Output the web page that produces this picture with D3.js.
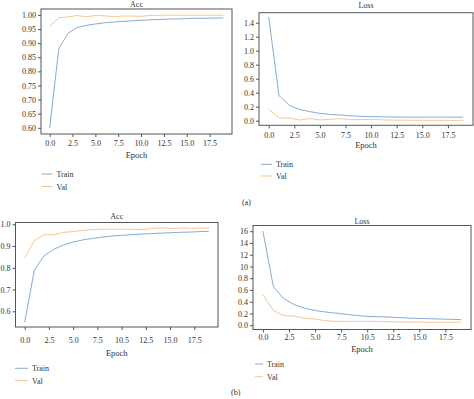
<!DOCTYPE html>
<html><head><meta charset="utf-8">
<script src="https://cdn.jsdelivr.net/npm/d3@7"></script>
<style>
html,body{margin:0;padding:0;background:#fff;}
svg{display:block;}
text{font-family:"Liberation Serif","DejaVu Serif",serif;fill:#333;}
</style></head>
<body>
<script>
const epochs = d3.range(0, 20);
const xTickValues = [0, 2.5, 5, 7.5, 10, 12.5, 15, 17.5];
const xTickLabelsA = ["0.0","2.5","5.0","7.5","10.0","12.5","15.0","17.5"];
const xTickLabelsB = ["0.0","2.5","5.0","7.5","10.5","12.5","15.0","17.5"];

const accTrainA = [0.600,0.880,0.935,0.955,0.963,0.968,0.972,0.975,0.977,0.979,0.981,0.983,0.984,0.985,0.986,0.987,0.988,0.988,0.989,0.989];
const accValA   = [0.960,0.990,0.993,0.998,0.993,0.998,0.997,0.994,0.996,0.996,0.995,0.998,0.999,0.999,0.999,0.999,0.999,0.999,0.999,0.999];
const lossTrainA = [1.48,0.36,0.22,0.16,0.13,0.105,0.09,0.08,0.07,0.062,0.058,0.055,0.052,0.050,0.050,0.050,0.050,0.050,0.050,0.050];
const lossValA   = [0.16,0.04,0.04,0.01,0.03,0.01,0.02,0.03,0.015,0.015,0.02,0.012,0.008,0.007,0.006,0.006,0.005,0.005,0.005,0.005];

const accTrainB = [0.550,0.790,0.855,0.885,0.905,0.918,0.928,0.935,0.941,0.946,0.949,0.952,0.955,0.957,0.959,0.961,0.963,0.964,0.966,0.967];
const accValB   = [0.845,0.925,0.952,0.952,0.963,0.966,0.972,0.975,0.977,0.977,0.977,0.977,0.974,0.980,0.983,0.981,0.982,0.982,0.982,0.982];
const lossTrainB = [1.60,0.66,0.45,0.35,0.29,0.25,0.225,0.205,0.185,0.165,0.15,0.145,0.14,0.13,0.12,0.115,0.11,0.105,0.10,0.095];
const lossValB   = [0.52,0.25,0.165,0.155,0.12,0.105,0.075,0.065,0.065,0.065,0.065,0.065,0.06,0.055,0.055,0.052,0.05,0.05,0.05,0.05];

const yTicksAccA = [0.60,0.65,0.70,0.75,0.80,0.85,0.90,0.95,1.00];
const yTickLabelsAccA = ["0.60","0.65","0.70","0.75","0.80","0.85","0.90","0.95","1.00"];
const yTicksLossA = [0,0.2,0.4,0.6,0.8,1.0,1.2,1.4];
const yTickLabelsLossA = ["0.0","0.2","0.4","0.6","0.8","1.0","1.2","1.4"];
const yTicksAccB = [0.6,0.7,0.8,0.9,1.0];
const yTickLabelsAccB = ["0.6","0.7","0.8","0.9","1.0"];
const yTicksLossB = [0,0.2,0.4,0.6,0.8,1.0,1.2,1.4,1.6];
const yTickLabelsLossB = ["0.0","0.2","0.4","0.6","0.8","10","12","14","16"];

const seriesNames = ["Train","Val"];
const colors = {Train:"#86acd6", Val:"#f7c594"};

const W = 474, H = 399;
const svg = d3.select("body").append("svg").attr("width", W).attr("height", H);

function panel(cfg){
  const x = d3.scaleLinear().domain([-0.95, 19.95]).range([cfg.l, cfg.r]);
  const y = d3.scaleLinear().domain(cfg.yd).range([cfg.b, cfg.t]);
  const g = svg.append("g");
  const line = d3.line().x((d,i)=>x(epochs[i])).y(d=>y(d));
  g.append("path").datum(cfg.train).attr("d", line).attr("fill","none")
    .attr("stroke", colors.Train).attr("stroke-width",1);
  g.append("path").datum(cfg.val).attr("d", line).attr("fill","none")
    .attr("stroke", colors.Val).attr("stroke-width",1);
  g.append("rect").attr("x",cfg.l).attr("y",cfg.t).attr("width",cfg.r-cfg.l).attr("height",cfg.b-cfg.t)
    .attr("fill","none").attr("stroke","#555").attr("stroke-width",1);
  const xa = g.append("g").attr("transform",`translate(0,${cfg.b})`)
    .call(d3.axisBottom(x).tickValues(xTickValues).tickSize(3).tickPadding(2)
      .tickFormat((d,i)=>cfg.xlabels[i]));
  const ya = g.append("g").attr("transform",`translate(${cfg.l},0)`)
    .call(d3.axisLeft(y).tickValues(cfg.yt).tickSize(3).tickPadding(2)
      .tickFormat((d,i)=>cfg.ylabels[i]));
  [xa,ya].forEach(a=>{
    a.select(".domain").remove();
    a.selectAll(".tick line").attr("stroke","#555");
    a.selectAll("text").attr("font-family","Liberation Serif, DejaVu Serif, serif")
      .attr("font-size",8).attr("fill","#333");
  });
  xa.selectAll("text").attr("dy", null).attr("y", cfg.xlabY - cfg.b);
  g.append("text").attr("x",(cfg.l+cfg.r)/2).attr("y",cfg.titleY).attr("text-anchor","middle")
    .attr("font-size",8).text(cfg.title);
  g.append("text").attr("x",(cfg.l+cfg.r)/2).attr("y",cfg.epochY).attr("text-anchor","middle")
    .attr("font-size",8.5).text("Epoch");
  seriesNames.forEach((s,i)=>{
    const ly = cfg.legY + i*cfg.legDy;
    g.append("line").attr("x1",cfg.legX).attr("x2",cfg.legX+cfg.legLen).attr("y1",ly).attr("y2",ly)
      .attr("stroke",colors[s]).attr("stroke-width",1);
    g.append("text").attr("x",cfg.legX+cfg.legLen+4).attr("y",ly+3).attr("font-size",8).text(s);
  });
}

panel({l:41,r:232,t:9,b:134,yd:[0.578,1.021],train:accTrainA,val:accValA,yt:yTicksAccA,ylabels:yTickLabelsAccA,
  xlabels:xTickLabelsA,title:"Acc",titleY:7,xlabY:146,epochY:158,legX:41.5,legLen:11,legY:174,legDy:12.5});
panel({l:259,r:473,t:12.7,b:125.3,yd:[-0.066,1.543],train:lossTrainA,val:lossValA,yt:yTicksLossA,ylabels:yTickLabelsLossA,
  xlabels:xTickLabelsA,title:"Loss",titleY:7.5,xlabY:138,epochY:148,legX:261,legLen:11,legY:164.3,legDy:11.7});
panel({l:15.5,r:218,t:222.5,b:327,yd:[0.528,1.008],train:accTrainB,val:accValB,yt:yTicksAccB,ylabels:yTickLabelsAccB,
  xlabels:xTickLabelsB,title:"Acc",titleY:219,xlabY:343,epochY:355.5,legX:15,legLen:13,legY:368.3,legDy:12.4});
panel({l:253,r:471,t:225.5,b:329.5,yd:[-0.073,1.697],train:lossTrainB,val:lossValB,yt:yTicksLossB,ylabels:yTickLabelsLossB,
  xlabels:xTickLabelsB,title:"Loss",titleY:223.5,xlabY:339.5,epochY:351.5,legX:255,legLen:8,legY:364,legDy:12.7});

svg.append("text").attr("x",242).attr("y",205).attr("font-size",8).text("(a)");
svg.append("text").attr("x",231).attr("y",395).attr("font-size",8).text("(b)");
</script>
</body></html>
